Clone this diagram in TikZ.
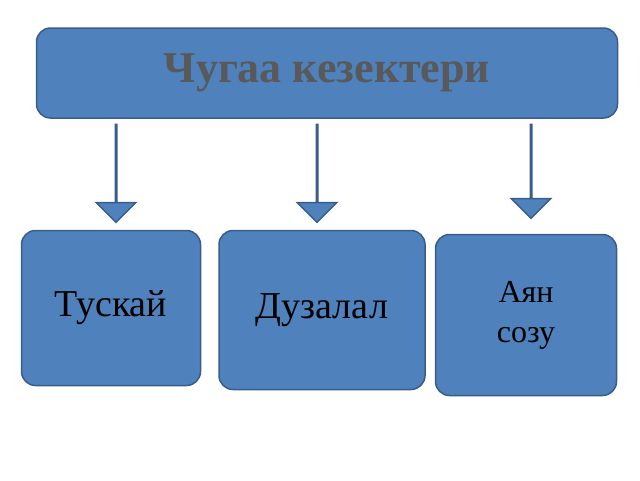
\documentclass[tikz,border=0pt]{standalone}
\usepackage{fontspec}
\setmainfont{Liberation Serif}
\usetikzlibrary{shapes.arrows}
\definecolor{boxblue}{HTML}{4F81BD}
\definecolor{boxline}{HTML}{385D8A}
\definecolor{titlegray}{HTML}{595959}
\tikzset{
  box/.style={rectangle, rounded corners=14pt, draw=boxline, line width=1.5pt, fill=boxblue, align=center, font=\fontsize{38}{42}\selectfont},
  downarrow/.style={single arrow, draw=boxline, line width=1.5pt, fill=boxblue, shape border rotate=270, minimum height=#1, inner xsep=0pt, inner ysep=14pt, single arrow head extend=19pt}
}
\begin{document}
\begin{tikzpicture}[x=1pt,y=-1pt]
\useasboundingbox (0,0) rectangle (640,480);

%% NODES

\node (title) [box, minimum width=581pt, minimum height=90pt, text=titlegray, font=\fontsize{44}{48}\selectfont\bfseries] at (327,73) {Чугаа кезектери};
\node (a1) [downarrow=98pt] at (116,173) {};
\node (a2) [downarrow=98pt] at (317,173) {};
\node (a3) [downarrow=94pt] at (531,171) {};
\node (b1) [box, minimum width=179pt, minimum height=155pt] at (111,308) {Тускай};
\node (b2) [box, minimum width=206pt, minimum height=159pt] at (322,310) {Дузалал};
\node (b3) [box, minimum width=181pt, minimum height=161pt, font=\fontsize{32}{40}\selectfont] at (526,315) {Аян\\созу};

\end{tikzpicture}
\end{document}
